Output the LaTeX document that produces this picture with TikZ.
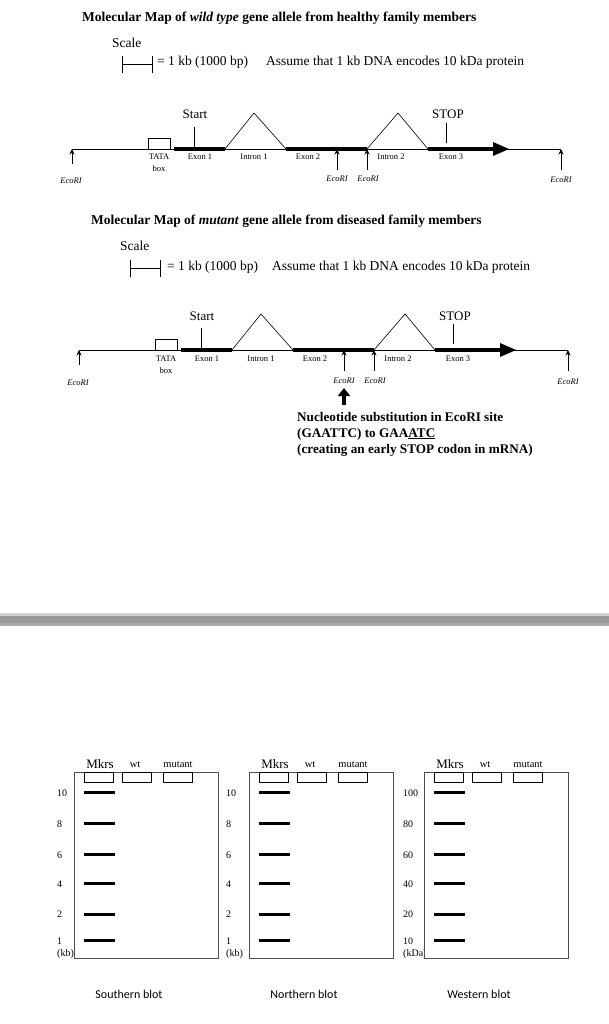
\documentclass[tikz,border=0pt]{standalone}
\usepackage{fontspec}
\setmainfont{Liberation Serif}
\newfontfamily\blotfont{Carlito}
\usetikzlibrary{arrows.meta}
\definecolor{barlight}{RGB}{210,210,210}
\definecolor{barmid}{RGB}{153,153,153}
\definecolor{bardark}{RGB}{170,170,170}
\definecolor{boxgray}{RGB}{80,80,80}
\tikzset{
  ttl/.style={font=\fontsize{13.5}{15}\selectfont\bfseries, inner sep=0, anchor=base west},
  txt/.style={font=\fontsize{13.5}{15}\selectfont, inner sep=0, anchor=base west},
  big/.style={font=\fontsize{13}{15}\selectfont, inner sep=0, anchor=base},
  small/.style={font=\fontsize{8.5}{10}\selectfont, inner sep=0, anchor=base},
  eco/.style={font=\fontsize{8.5}{10}\selectfont\itshape, inner sep=0, anchor=base},
  note/.style={font=\fontsize{13.2}{16}\selectfont\bfseries, inner sep=0, anchor=base west},
  exon/.style={line width=4pt},
  ecoarr/.style={-{Stealth[length=5.5pt,width=5pt]}, line width=0.6pt},
  thinline/.style={line width=0.6pt},
  num/.style={font=\fontsize{10}{12}\selectfont, inner sep=0, anchor=base west},
  lane/.style={font=\fontsize{10.5}{12}\selectfont, inner sep=0, anchor=base},
  mkrs/.style={font=\fontsize{13}{14}\selectfont, inner sep=0, anchor=base},
  blotname/.style={font=\blotfont\fontsize{12}{14}\selectfont, inner sep=0},
  band/.style={line width=3pt},
  genemap/.pic={
    \coordinate (L) at (72,149);
    \coordinate (R) at (561,149);
    \draw[thinline] (L) -- (R);
    \draw[thinline] (148,149) rectangle (170,138);
    \draw[exon] (174,149) -- (225,149);
    \draw[thinline] (225,149) -- (254,113) -- (286,149);
    \draw[exon] (286,149) -- (367,149);
    \draw[thinline] (367,149) -- (398,113) -- (428,149);
    \draw[exon] (428,149) -- (494,149);
    \fill (493,142) -- (509,149) -- (493,156) -- cycle;
    \node[big] (start) at (195,119) {Start};
    \draw[thinline] (194,127) -- (194,147);
    \node[big] (stop) at (448,119) {STOP};
    \draw[thinline] (446,123) -- (446,143);
    \node[small] (tata) at (159,160) {TATA};
    \node[small] (box) at (159,172) {box};
    \node[small] (ex1) at (200,160) {Exon 1};
    \node[small] (in1) at (254,160) {Intron 1};
    \node[small] (ex2) at (308,160) {Exon 2};
    \node[small] (in2) at (391,160) {Intron 2};
    \node[small] (ex3) at (451,160) {Exon 3};
    \coordinate (e1b) at (72,164);  \coordinate (e1t) at (72,149);
    \coordinate (e2b) at (337,170); \coordinate (e2t) at (337,149);
    \coordinate (e3b) at (367,170); \coordinate (e3t) at (367,149);
    \coordinate (e4b) at (561,170); \coordinate (e4t) at (561,149);
    \draw[ecoarr] (e1b) -- (e1t);
    \draw[ecoarr] (e2b) -- (e2t);
    \draw[ecoarr] (e3b) -- (e3t);
    \draw[ecoarr] (e4b) -- (e4t);
    \node[eco] (r1) at (71,184) {EcoRI};
    \node[eco] (r2) at (337,182) {EcoRI};
    \node[eco] (r3) at (368,182) {EcoRI};
    \node[eco] (r4) at (561,183) {EcoRI};
  }
}
\begin{document}
\begin{tikzpicture}[x=1pt,y=-1pt]
\useasboundingbox (0,0) rectangle (609,1024);
\fill[white] (0,0) rectangle (609,1024);

% ---------- wild type ----------
\node[ttl] (wttitle) at (82,22) {Molecular Map of \textit{wild type} gene allele from healthy family members};
\node[txt] (wtscale) at (112,48) {Scale};
\draw[thinline] (122,56) -- (122,73) (152,56) -- (152,73) (122,64) -- (152,64);
\node[txt] (wtkb) at (157,66) {= 1 kb (1000 bp)};
\node[txt] (wtassume) at (266,66) {Assume that 1 kb DNA encodes 10 kDa protein};
\pic (wt) at (0,0) {genemap};

% ---------- mutant ----------
\node[ttl] (mtitle) at (91,225) {Molecular Map of \textit{mutant} gene allele from diseased family members};
\node[txt] (mscale) at (120,251) {Scale};
\draw[thinline] (130,260) -- (130,277) (160,260) -- (160,277) (130,268) -- (160,268);
\node[txt] (mkb) at (167,270) {= 1 kb (1000 bp)};
\node[txt] (massume) at (272,270) {Assume that 1 kb DNA encodes 10 kDa protein};
\pic (mt) at (7,201) {genemap};

\coordinate (ptrb) at (344,405);
\coordinate (ptrt) at (344,388);
\draw[line width=3.5pt, -{Triangle[length=8pt,width=12pt]}] (ptrb) -- (ptrt);
\node[note] (n1) at (297,421) {Nucleotide substitution in EcoRI site};
\node[note] (n2) at (297,437) {(GAATTC) to GAA\underline{ATC}};
\node[note] (n3) at (297,453) {(creating an early STOP codon in mRNA)};

% ---------- gray separator ----------
\fill[barlight] (0,613) rectangle (609,615.5);
\fill[barmid] (0,615.5) rectangle (609,623);
\fill[bardark] (0,623) rectangle (609,625.5);

% ---------- blots ----------
\foreach \i/\ox/\lx/\a/\b/\c/\d/\e/\f/\u/\nm in {
   1/0/-17/10/8/6/4/2/1/{(kb)}/{Southern blot},
   2/175/-23/10/8/6/4/2/1/{(kb)}/{Northern blot},
   3/350/-21/100/80/60/40/20/10/{(kDa)}/{Western blot}}{
  \begin{scope}[xshift=\ox pt]
    \node[num] (l\i a) at (74+\lx,796) {\a};
    \node[num] (l\i b) at (74+\lx,827) {\b};
    \node[num] (l\i c) at (74+\lx,858) {\c};
    \node[num] (l\i d) at (74+\lx,887) {\d};
    \node[num] (l\i e) at (74+\lx,917) {\e};
    \node[num] (l\i f) at (74+\lx,944) {\f};
    \node[num] (l\i u) at (74+\lx,956) {\u};
    \draw[boxgray, line width=0.9pt, fill=white] (74,772) rectangle (218,958);
    \node (box\i) at (146,865) {};
    \draw[thinline] (84,772) rectangle (113,782);
    \draw[thinline] (122,772) rectangle (151,782);
    \draw[thinline] (163,772) rectangle (192,782);
    \foreach \yy in {792,823,854,883,914,940}{
      \draw[band] (84,\yy) -- (115,\yy);
    }
    \node[mkrs] (mk\i) at (100,768) {Mkrs};
    \node[lane] (wt\i) at (135,767.5) {wt};
    \node[lane] (mu\i) at (178,767.5) {mutant};
    \node[blotname] (bn\i) at (129,994) {\nm};
  \end{scope}
}
\end{tikzpicture}
\end{document}
